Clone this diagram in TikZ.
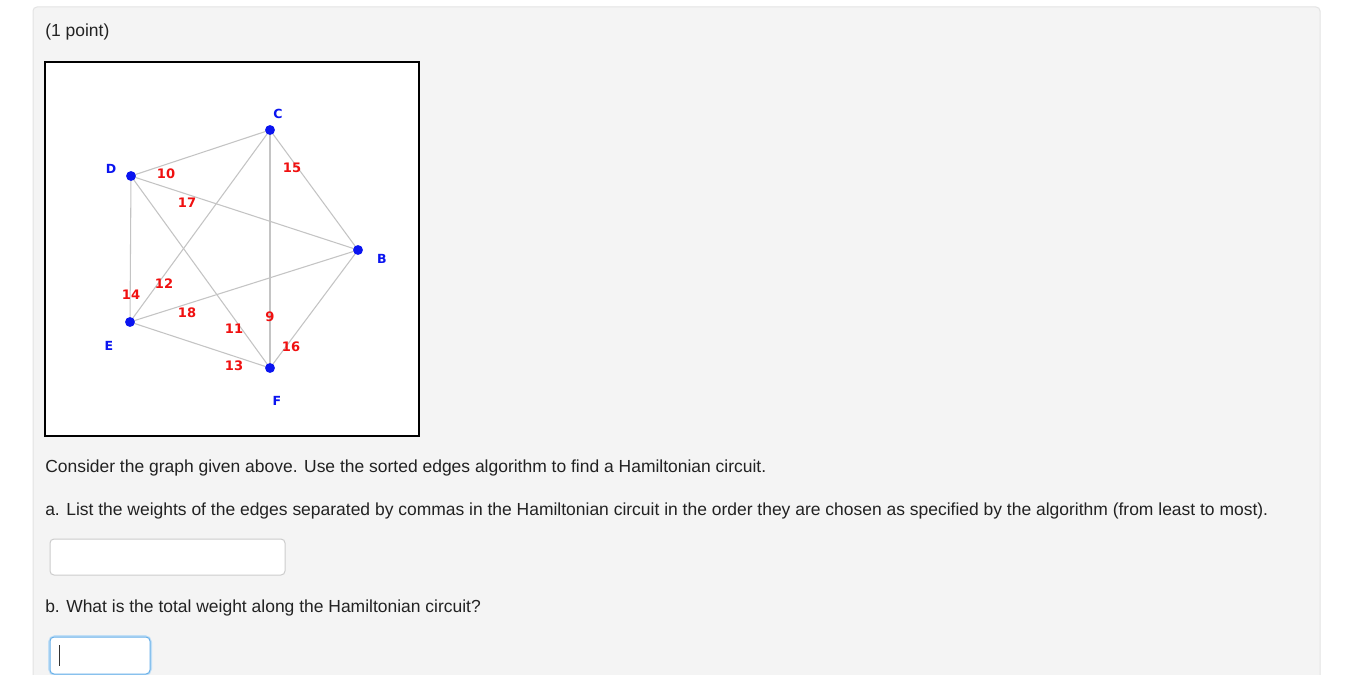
\documentclass[tikz,border=0pt]{standalone}
\usepackage{fontspec}
\setmainfont{Liberation Sans}
\newfontfamily\glabel{DejaVu Sans}
\definecolor{panelbg}{HTML}{F4F4F4}
\definecolor{panelbd}{HTML}{E3E3E3}
\definecolor{edgegray}{HTML}{C4C4C4}
\definecolor{vblue}{HTML}{0A14F0}
\definecolor{wred}{HTML}{F01010}
\definecolor{boxbd}{HTML}{CCCCCC}
\definecolor{focusbd}{HTML}{66AFE9}
\definecolor{txt}{HTML}{222222}
\pgfdeclarelayer{bglayer}
\pgfdeclarelayer{edgelayer}
\pgfsetlayers{bglayer,edgelayer,main}
\begin{document}
\begin{tikzpicture}[x=0.75pt,y=-0.75pt,
  vertex/.style={circle,fill=vblue,inner sep=0pt,minimum size=7.4pt},
  vname/.style={text=vblue,font=\glabel\bfseries\fontsize{9.4}{10}\selectfont,inner sep=0pt},
  weight/.style={text=wred,font=\glabel\bfseries\fontsize{9.8}{10}\selectfont,inner sep=0pt},
  gedge/.style={draw=edgegray,line width=0.8pt},
  para/.style={anchor=base west,inner sep=0pt,text=txt,font=\fontsize{13.1}{15}\selectfont},
  inbox/.style={draw=boxbd,fill=white,rounded corners=3pt,line width=0.75pt}]
\useasboundingbox (0,0) rectangle (1358,674);
\begin{pgfonlayer}{bglayer}
\fill[white] (0,0) rectangle (1358,674);
\draw[panelbd,fill=panelbg,rounded corners=3pt,line width=0.75pt] (33,7) -- (1320,7) -- (1320,690) -- (33,690) -- cycle;
\draw[black,fill=white,line width=1pt] (45,62) rectangle (419,436);
\end{pgfonlayer}
\node[para] (pt) at (45,37) {(1 point)};
% vertices
\node[vertex] (C) at (270,130) {};
\node[vertex] (D) at (131,176) {};
\node[vertex] (B) at (358,250) {};
\node[vertex] (E) at (130,322) {};
\node[vertex] (F) at (270,368) {};
% edges
\begin{pgfonlayer}{edgelayer}
\draw[gedge] (C.center) -- (D.center);
\draw[gedge] (C.center) -- (B.center);
\draw[gedge] (C.center) -- (E.center);
\draw[gedge] (C.center) -- (F.center);
\draw[gedge] (D.center) -- (B.center);
\draw[gedge] (D.center) -- (E.center);
\draw[gedge] (D.center) -- (F.center);
\draw[gedge] (E.center) -- (B.center);
\draw[gedge] (E.center) -- (F.center);
\draw[gedge] (F.center) -- (B.center);
\end{pgfonlayer}
% vertex names
\node[vname] (lC) at (278,114) {C};
\node[vname] (lD) at (111,169) {D};
\node[vname] (lB) at (382,259) {B};
\node[vname] (lE) at (109,346) {E};
\node[vname] (lF) at (277,401) {F};
% weights
\node[weight] (w10) at (166,174) {10};
\node[weight] (w15) at (292,168) {15};
\node[weight] (w17) at (187,203) {17};
\node[weight] (w12) at (164,284) {12};
\node[weight] (w14) at (131,295) {14};
\node[weight] (w18) at (187,313) {18};
\node[weight] (w11) at (234,329) {11};
\node[weight] (w9) at (270,317) {9};
\node[weight] (w16) at (291,347) {16};
\node[weight] (w13) at (234,366) {13};
% text
\node[para] (q) at (45,472) {Consider the graph given above. Use the sorted edges algorithm to find a Hamiltonian circuit.};
\node[para] (qa) at (45,515) {a. List the weights of the edges separated by commas in the Hamiltonian circuit in the order they are chosen as specified by the algorithm (from least to most).};
\draw[inbox] (50,539) rectangle (285,575);
\node[para] (qb) at (45,612) {b. What is the total weight along the Hamiltonian circuit?};
\draw[focusbd!40,line width=3pt,rounded corners=4pt] (50,637) rectangle (150,674);
\draw[draw=focusbd,fill=white,rounded corners=3pt,line width=0.75pt] (50,637) rectangle (150,674);
\draw[black!80,line width=1pt] (59.5,645) coordinate (cs) -- (59.5,666) coordinate (ce);
\end{tikzpicture}
\end{document}
